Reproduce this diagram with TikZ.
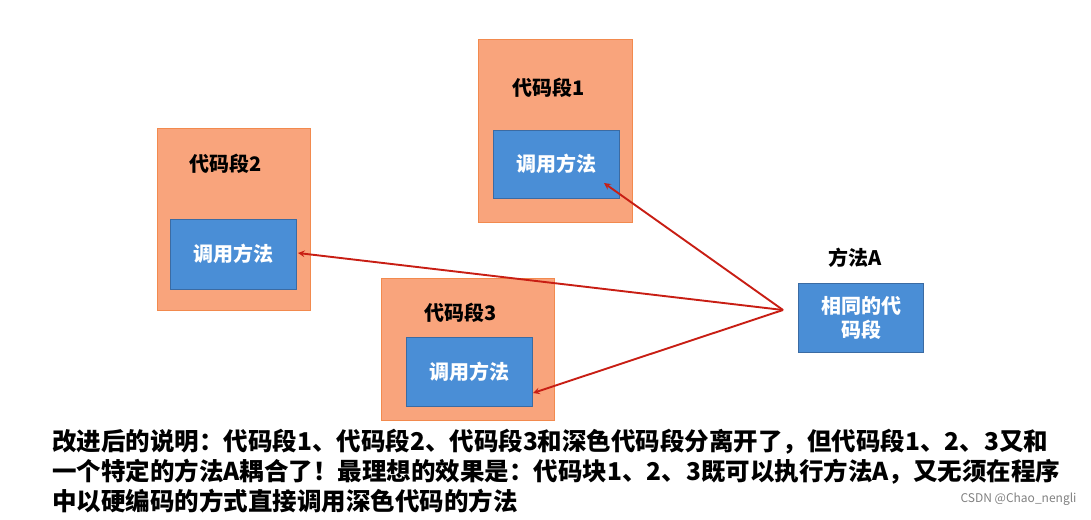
\documentclass[tikz,border=0pt]{standalone}
\usepackage{fontspec}
\setmainfont{Noto Sans CJK SC}
\definecolor{segfill}{HTML}{F9A47C}
\definecolor{segdraw}{HTML}{F28A4E}
\definecolor{blufill}{HTML}{4A8ED6}
\definecolor{bludraw}{HTML}{3B6BA3}
\definecolor{arrred}{HTML}{C81E14}
\begin{document}
\begin{tikzpicture}[x=1pt,y=-1pt,
  seg/.style={draw=segdraw, fill=segfill, line width=1pt},
  blu/.style={draw=bludraw, fill=blufill, line width=1pt, text=white, font=\bfseries\fontsize{20}{24}\selectfont, align=center, inner sep=2pt},
  lbl/.style={font=\bfseries\fontsize{20}{24}\selectfont},
  arr/.style={draw=arrred, line width=1.9pt, ->, >=stealth}]
\useasboundingbox (0,0) rectangle (1091,519);
\path[seg] (478,40) rectangle (632,222);
\path[seg] (157,128) rectangle (310,310);
\path[seg] (381,278) rectangle (554,420);
\node[lbl] (l1) at (549,88) {代码段1};
\node[lbl] (l2) at (226,164) {代码段2};
\node[lbl] (l3) at (461,313) {代码段3};
\node[blu, minimum width=126pt, minimum height=68pt] (b1) at (556,164) {调用方法};
\node[blu, minimum width=126pt, minimum height=70pt] (b2) at (233,254) {调用方法};
\node[blu, minimum width=126pt, minimum height=69pt] (b3) at (469,372) {调用方法};
\node[blu, minimum width=125pt, minimum height=69pt] (ba) at (861,318) {相同的代\\码段};
\node[lbl] (la) at (855,258) {方法A};
\coordinate (src) at (783,310);
\draw[arr] (src) -- (604,183);
\draw[arr] (src) -- (298,253);
\draw[arr] (src) -- (533,393);
\node[lbl, anchor=west, align=left, font=\bfseries\fontsize{24.5}{30}\selectfont, inner sep=0pt] (txt) at (52,471) {改进后的说明：代码段1、代码段2、代码段3和深色代码段分离开了，但代码段1、2、3又和\\一个特定的方法A耦合了！最理想的效果是：代码块1、2、3既可以执行方法A，又无须在程序\\中以硬编码的方式直接调用深色代码的方法};
\node[text=gray, font=\fontsize{12}{14}\selectfont, anchor=east] (wm) at (1080,499) {CSDN @Chao\_nengli};
\end{tikzpicture}
\end{document}
